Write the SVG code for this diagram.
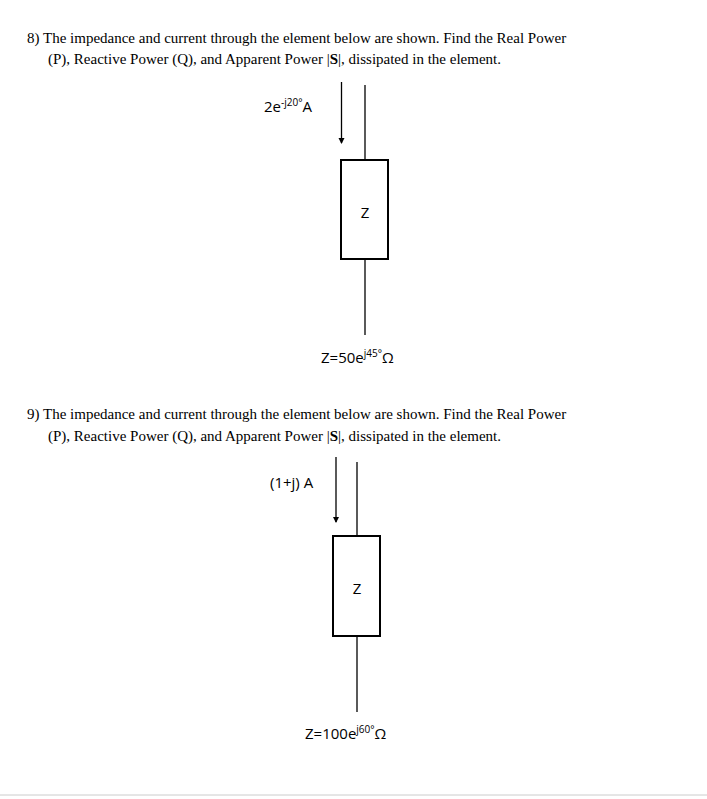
<svg xmlns="http://www.w3.org/2000/svg" width="707" height="799" viewBox="0 0 707 799">
<style>
.q{font-family:"Liberation Serif",serif;font-size:15px;fill:#000}
.s{font-family:"Open Sans","DejaVu Sans",sans-serif;font-size:15px;fill:#000}
.sup{font-size:10px}
.w{stroke:#000;stroke-width:1.3;fill:none}
.b{stroke:#000;stroke-width:2;fill:#fff}
</style>
<defs><marker id="ah" markerWidth="6" markerHeight="6" refX="3" refY="5" orient="auto" markerUnits="userSpaceOnUse"><path d="M0,0 L6,0 L3,6 Z" fill="#000" transform="rotate(-90 3 3)"/></marker>
<marker id="a2" markerWidth="6" markerHeight="7" refX="5" refY="3" orient="auto" markerUnits="userSpaceOnUse"><path d="M0,0 L6,3 L0,6 Z" fill="#000"/></marker></defs>
<g id="text">
<text class="q" x="27" y="43">8)  The impedance and current through the element below are shown.  Find the Real Power</text>
<text class="q" x="48" y="64">(P), Reactive Power (Q), and Apparent Power |<tspan font-weight="bold">S</tspan>|, dissipated in the element.</text>
<text class="q" x="27" y="419">9)  The impedance and current through the element below are shown.  Find the Real Power</text>
<text class="q" x="48" y="441">(P), Reactive Power (Q), and Apparent Power |<tspan font-weight="bold">S</tspan>|, dissipated in the element.</text>
</g>
<g id="connectors">
<line class="w" x1="341.5" y1="82" x2="341.5" y2="143" marker-end="url(#a2)"/>
<line class="w" x1="365" y1="85" x2="365" y2="160"/>
<line class="w" x1="365" y1="259" x2="365" y2="335"/>
<line class="w" x1="336" y1="457" x2="336" y2="522" marker-end="url(#a2)"/>
<line class="w" x1="357" y1="462" x2="357" y2="536"/>
<line class="w" x1="357" y1="636" x2="357" y2="712"/>
</g>
<g id="node1">
<rect class="b" x="341" y="160" width="47" height="99"/>
<text class="s" x="365" y="218" text-anchor="middle">Z</text>
<text class="s" x="264" y="112">2e<tspan class="sup" dy="-6">-j20°</tspan><tspan dy="6">A</tspan></text>
<text class="s" x="321" y="363">Z=50e<tspan class="sup" dy="-6">j45°</tspan><tspan dy="6">Ω</tspan></text>
</g>
<g id="node2">
<rect class="b" x="333" y="536" width="47" height="100"/>
<text class="s" x="357" y="594" text-anchor="middle">Z</text>
<text class="s" x="270" y="488">(1+j) A</text>
<text class="s" x="305" y="739">Z=100e<tspan class="sup" dy="-6">j60°</tspan><tspan dy="6">Ω</tspan></text>
</g>
<line x1="0" y1="795" x2="707" y2="795" stroke="#ccc" stroke-width="1"/>
</svg>
